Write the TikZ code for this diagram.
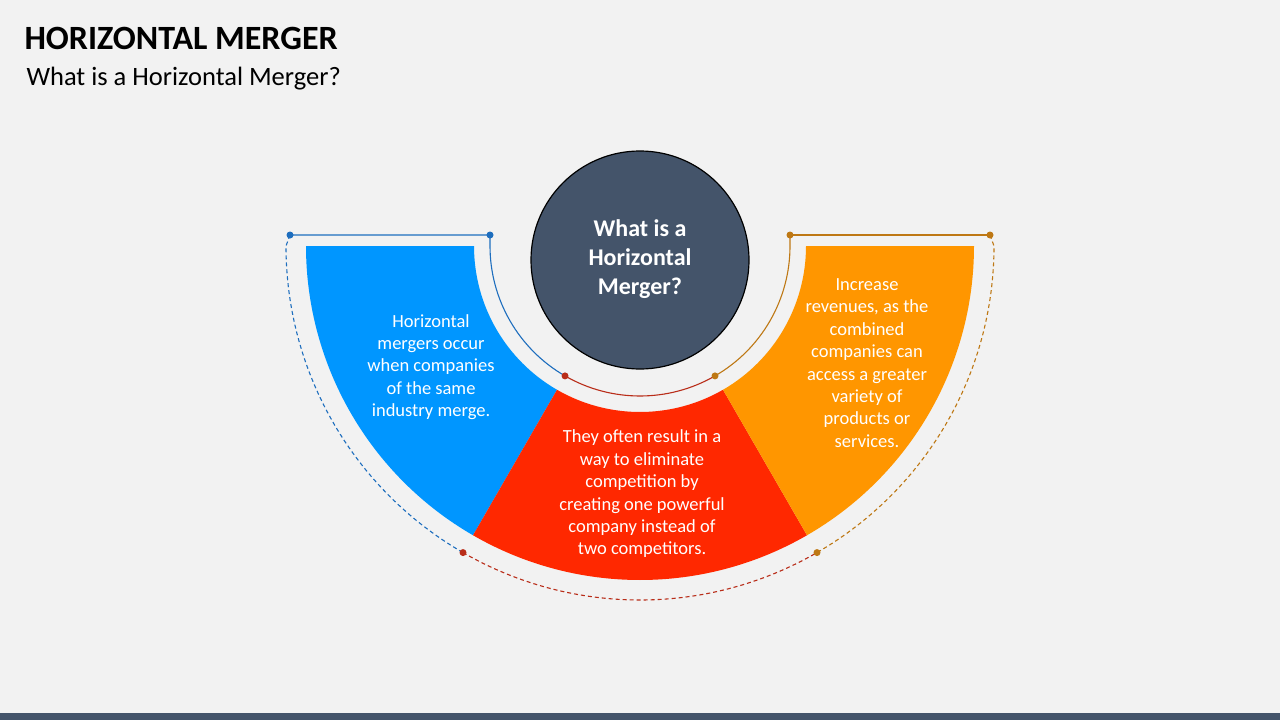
\documentclass[tikz,border=0pt]{standalone}
\usepackage{fontspec}
\setmainfont{Carlito}
\begin{document}
\begin{tikzpicture}[x=1pt,y=-1pt,
  dot/.style={circle,inner sep=0pt,minimum size=7pt},
  txt/.style={text=white,align=center,font=\fontsize{18.5}{22.4}\selectfont},
  dsh/.style={line width=1.1pt,dash pattern=on 4pt off 3pt}]
\definecolor{bg}{RGB}{242,242,242}
\definecolor{cb}{RGB}{0,150,255}
\definecolor{cr}{RGB}{255,40,0}
\definecolor{co}{RGB}{255,150,0}
\definecolor{cd}{RGB}{68,84,106}
\definecolor{lb}{RGB}{30,110,190}
\definecolor{lr}{RGB}{185,45,25}
\definecolor{lo}{RGB}{190,120,20}
\fill[bg] (0,0) rectangle (1280,720);
\useasboundingbox (0,0) rectangle (1280,720);
\fill[cd] (0,713) rectangle (1280,720);
\node[anchor=west,font=\bfseries\fontsize{34}{38}\selectfont] (title) at (21,38) {HORIZONTAL MERGER};
\node[anchor=west,font=\fontsize{26.5}{30}\selectfont] (sub) at (23,79) {What is a Horizontal Merger?};
\begin{scope}[shift={(640,246)}]
\fill[cb] (180:334) arc[start angle=180,end angle=120,radius=334] -- (120:166) arc[start angle=120,end angle=180,radius=166] -- cycle;
\fill[cr] (120:334) arc[start angle=120,end angle=60,radius=334] -- (60:166) arc[start angle=60,end angle=120,radius=166] -- cycle;
\fill[co] (60:334) arc[start angle=60,end angle=0,radius=334] -- (0:166) arc[start angle=0,end angle=60,radius=166] -- cycle;
\coordinate (bl) at (180:150);
\coordinate (b1) at (120:150);
\coordinate (b2) at (60:150);
\coordinate (br) at (0:150);
\coordinate (dl) at (180:354);
\coordinate (d1) at (120:354);
\coordinate (d2) at (60:354);
\coordinate (dr) at (0:354);
\end{scope}
\coordinate (tl1) at (290,235);
\coordinate (tl2) at (490,235);
\coordinate (tr1) at (790,235);
\coordinate (tr2) at (990,235);
\draw[lb,line width=1.1pt] (tl1) -- (tl2) -- (bl) arc[start angle=180,end angle=120,radius=150];
\draw[lb,dsh] (tl1) -- (dl) arc[start angle=180,end angle=120,radius=354];
\draw[lr,line width=1.1pt] (b1) arc[start angle=120,end angle=60,radius=150];
\draw[lr,dsh] (d1) arc[start angle=120,end angle=60,radius=354];
\draw[lo,line width=1.1pt] (tr1) -- (tr2);
\draw[lo,line width=1.1pt] (tr1) -- (br) arc[start angle=0,end angle=60,radius=150];
\draw[lo,dsh] (tr2) -- (dr) arc[start angle=0,end angle=60,radius=354];
\node[dot,fill=lb] (p1) at (tl1) {};
\node[dot,fill=lb] (p2) at (tl2) {};
\node[dot,fill=lr] (p3) at (b1) {};
\node[dot,fill=lo] (p4) at (b2) {};
\node[dot,fill=lr] (p5) at (d1) {};
\node[dot,fill=lo] (p6) at (d2) {};
\node[dot,fill=lo] (p7) at (tr1) {};
\node[dot,fill=lo] (p8) at (tr2) {};
\node[circle,fill=cd,draw=black,line width=1.2pt,minimum size=218pt,inner sep=0pt] (c) at (640,260) {};
\node[text=white,align=center,font=\bfseries\fontsize{24}{29}\selectfont] (ct) at (640,259) {What is a\\Horizontal\\Merger?};
\node[txt] (t1) at (431,367) {Horizontal\\mergers occur\\when companies\\of the same\\industry merge.};
\node[txt] (t2) at (642,494) {They often result in a\\way to eliminate\\competition by\\creating one powerful\\company instead of\\two competitors.};
\node[txt] (t3) at (867,363) {Increase\\revenues, as the\\combined\\companies can\\access a greater\\variety of\\products or\\services.};
\end{tikzpicture}
\end{document}
